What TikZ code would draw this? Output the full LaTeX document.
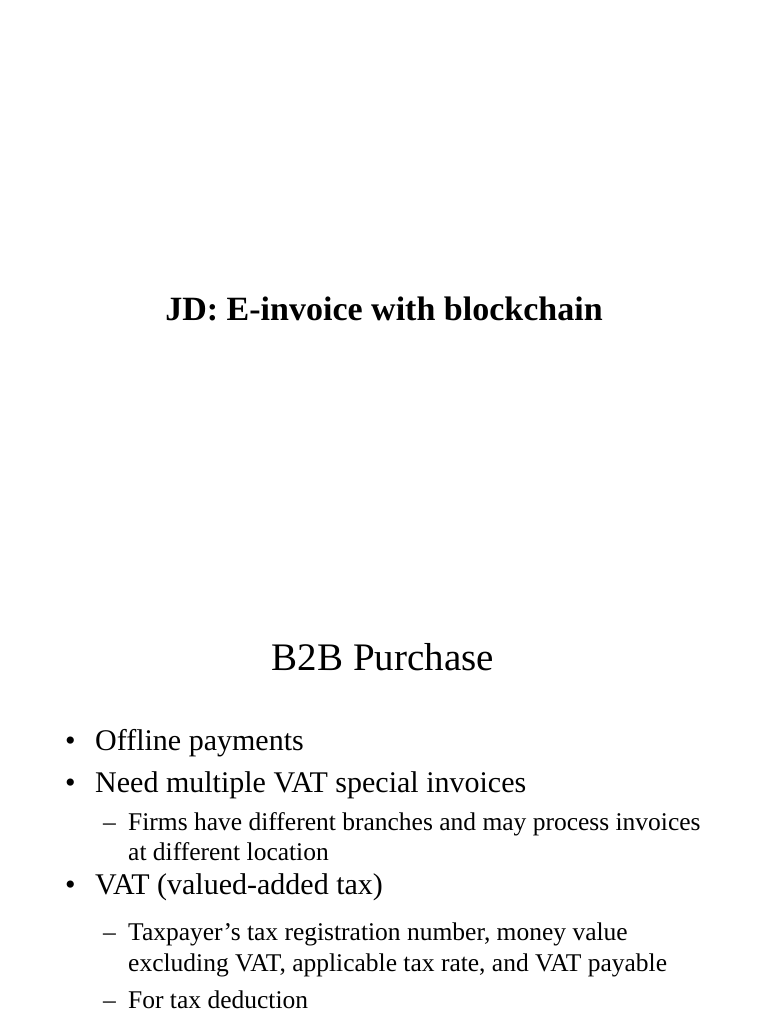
\documentclass[tikz,border=0pt]{standalone}
\usepackage{fontspec}
\setmainfont{Liberation Serif}
\begin{document}
\begin{tikzpicture}[x=1pt,y=-1pt,
  lvl/.style={anchor=base west,inner sep=0pt,font=\fontsize{30}{33}\selectfont},
  sub/.style={anchor=base west,inner sep=0pt,font=\fontsize{25.5}{28}\selectfont}]
\useasboundingbox[fill=white] (0,0) rectangle (768,1024);
\node[anchor=base,inner sep=0pt,font=\bfseries\fontsize{34}{38}\selectfont] (title) at (384,320) {JD: E-invoice with blockchain};
\node[anchor=base,inner sep=0pt,font=\fontsize{39}{44}\selectfont] (head) at (383,670) {B2B Purchase};
\node[lvl] (b1d) at (65,750) {•};
\node[lvl] (b1) at (95,750) {Offline payments};
\node[lvl] (b2d) at (65,792) {•};
\node[lvl] (b2) at (95,792) {Need multiple VAT special invoices};
\node[sub] (s1d) at (103,830) {–};
\node[sub] (s1) at (128,830) {Firms have different branches and may process invoices};
\node[sub] (s1b) at (128,860) {at different location};
\node[lvl] (b3d) at (65,894) {•};
\node[lvl] (b3) at (95,894) {VAT (valued-added tax)};
\node[sub] (s2d) at (103,940) {–};
\node[sub] (s2) at (128,940) {Taxpayer’s tax registration number, money value};
\node[sub] (s2b) at (128,971) {excluding VAT, applicable tax rate, and VAT payable};
\node[sub] (s3d) at (103,1008) {–};
\node[sub] (s3) at (128,1008) {For tax deduction};
\end{tikzpicture}
\end{document}
